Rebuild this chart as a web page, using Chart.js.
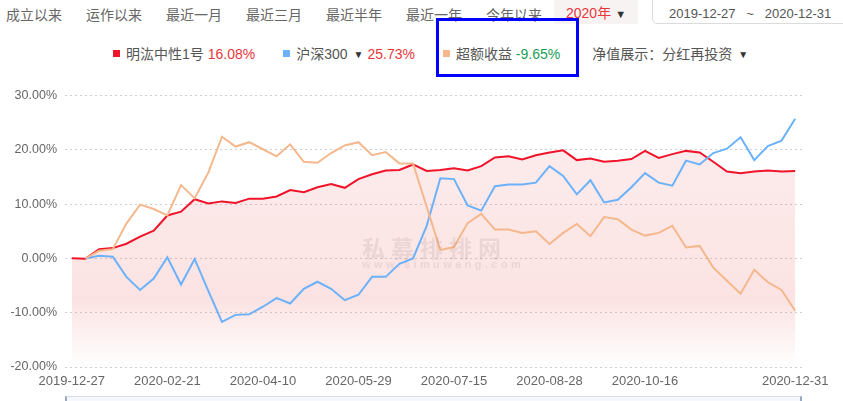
<!DOCTYPE html>
<html>
<head>
<meta charset="utf-8">
<script src="https://cdn.jsdelivr.net/npm/chart.js"></script>
<style>
  body { margin: 0; width: 843px; height: 401px; overflow: hidden; background: #fff;
         font-family: "Liberation Sans", "Noto Sans CJK SC", sans-serif; color: #666; }
  .tab { position: absolute; top: 4px; font-size: 14px; color: #666; }
  .tab.on { color: #e8363c; background: #f8f3f3; top: 0; height: 24px; line-height: 26px; padding: 0 12px; border-radius: 2px; }
  .tab.on b { font-weight: normal; color: #333; font-size: 11px; margin-left: 4px; }
  #dates { position: absolute; left: 652px; top: -6px; width: 200px; height: 30px; border: 1px solid #dcdcdc;
           border-radius: 5px; font-size: 13px; color: #555; line-height: 38px; padding-left: 16px; box-sizing: border-box; }
  #legend { position: absolute; top: 43px; left: 113px; font-size: 14px; color: #555; white-space: nowrap; }
  #legend span.item { margin-right: 28px; }
  #legend i { display: inline-block; width: 7px; height: 7px; margin-right: 6px; vertical-align: 2px; }
  #legend .arrow { font-size: 10px; color: #333; margin: 0 4px 0 6px; vertical-align: 1px; }
  #mark { position: absolute; left: 436px; top: 18px; width: 137px; height: 53px; border: 3px solid #0000ff; }
  #wm1 { position: absolute; left: 362px; top: 230px; font-size: 23px; font-weight: bold; letter-spacing: 6px; color: rgba(110,80,80,0.11); }
  #wm2 { position: absolute; left: 362px; top: 258px; font-size: 11px; font-weight: bold; letter-spacing: 3.4px; color: rgba(110,80,80,0.11); }
  #zoombar { position: absolute; left: 65px; top: 396px; width: 733px; height: 10px; background: #f6f8fd;
             border: 1px solid #d6dbe6; border-left: 2px solid #9aa8c8; border-right: 2px solid #9aa8c8; }
  #wrap { position: absolute; left: 0; top: 80px; width: 843px; height: 321px; }
</style>
</head>
<body>
<div id="tabs"></div>
<div id="dates">2019-12-27 &nbsp;&nbsp;~&nbsp;&nbsp; 2020-12-31</div>
<div id="legend"></div>
<div id="mark"></div>
<div id="wrap"><canvas id="myChart"></canvas></div>
<div id="wm1">私募排排网</div>
<div id="wm2">www.simuwang.com</div>
<div id="zoombar"></div>
<script>
let tabNames = ["成立以来", "运作以来", "最近一月", "最近三月", "最近半年", "最近一年", "今年以来", "2020年"];

let fechas = [
  "2019-12-27", "2020-01-03", "2020-01-10", "2020-01-17", "2020-01-23", "2020-02-07", "2020-02-14",
  "2020-02-21", "2020-02-28", "2020-03-06", "2020-03-13", "2020-03-20", "2020-03-27", "2020-04-03",
  "2020-04-10", "2020-04-17", "2020-04-24", "2020-04-30", "2020-05-08", "2020-05-15", "2020-05-22",
  "2020-05-29", "2020-06-05", "2020-06-12", "2020-06-19", "2020-06-24", "2020-07-03", "2020-07-10",
  "2020-07-15", "2020-07-17", "2020-07-24", "2020-07-31", "2020-08-07", "2020-08-14", "2020-08-21",
  "2020-08-28", "2020-09-04", "2020-09-11", "2020-09-18", "2020-09-25", "2020-09-30", "2020-10-09",
  "2020-10-16", "2020-10-23", "2020-10-30", "2020-11-06", "2020-11-13", "2020-11-20", "2020-11-27",
  "2020-12-04", "2020-12-11", "2020-12-18", "2020-12-25", "2020-12-31"
];
let etiquetasX = ["2019-12-27", "2020-02-21", "2020-04-10", "2020-05-29", "2020-07-15", "2020-08-28", "2020-10-16", "2020-12-31"];

let fondo = [0.05, -0.05, 1.7, 1.9, 2.7, 4.0, 5.1, 7.9, 8.6, 10.9, 10.1, 10.5, 10.2, 11.0, 11.0, 11.4, 12.6, 12.2,
  13.1, 13.7, 13.0, 14.6, 15.5, 16.2, 16.3, 17.3, 16.1, 16.3, 16.6, 16.2, 17.0, 18.6, 18.8, 18.2, 19.0, 19.5,
  19.9, 18.1, 18.4, 17.8, 18.0, 18.3, 19.8, 18.5, 19.2, 19.8, 19.5, 17.8, 16.0, 15.7, 16.0, 16.2, 16.0, 16.08];
let hs300 = [null, 0, 0.5, 0.3, -3.4, -5.8, -3.7, 0.2, -4.8, -0.1, -6.0, -11.7, -10.4, -10.3, -8.9, -7.3, -8.3, -5.6,
  -4.3, -5.6, -7.7, -6.7, -3.4, -3.4, -1.0, 0.0, 6.0, 14.75, 14.6, 9.75, 8.8, 13.3, 13.6, 13.6, 13.95, 17.0,
  15.2, 11.8, 14.4, 10.3, 10.8, 13.1, 15.7, 13.95, 13.4, 18.0, 17.3, 19.4, 20.2, 22.3, 18.1, 20.7, 21.7, 25.73];
let exceso = [null, 0, 1.4, 1.7, 6.4, 9.9, 9.1, 7.9, 13.5, 11.1, 15.8, 22.4, 20.6, 21.4, 20.1, 18.8, 21.0, 17.8,
  17.6, 19.4, 20.8, 21.4, 19.0, 19.6, 17.5, 17.5, 9.5, 1.55, 2.1, 6.5, 8.2, 5.3, 5.3, 4.7, 5.0, 2.65,
  4.7, 6.35, 4.1, 7.6, 7.2, 5.3, 4.2, 4.7, 6.0, 2.0, 2.3, -1.7, -4.1, -6.5, -2.1, -4.4, -5.8, -9.65];

let series = [
  { nombre: "明汯中性1号", color: "#f0142a", total: "16.08%", colorTotal: "#e8363c", data: fondo },
  { nombre: "沪深300", color: "#6cb2fa", total: "25.73%", colorTotal: "#e8363c", data: hs300, flecha: true },
  { nombre: "超额收益", color: "#f5b88c", total: "-9.65%", colorTotal: "#1a9e55", data: exceso }
];

// barra de pestañas
let tabsHtml = "";
tabNames.forEach(function (t, i) {
  if (i === tabNames.length - 1) {
    tabsHtml += `<span class="tab on" style="left:554px">${t}<b>▼</b></span>`;
  } else {
    tabsHtml += `<span class="tab" style="left:${6 + i * 80}px">${t}</span>`;
  }
});
document.getElementById("tabs").innerHTML = tabsHtml;

// leyenda
let legendHtml = "";
for (const s of series) {
  legendHtml += `<span class="item"><i style="background:${s.color}"></i>${s.nombre}` +
    (s.flecha ? `<span class="arrow">▼</span>` : " ") +
    `<span style="color:${s.colorTotal}">${s.total}</span></span>`;
}
legendHtml += `<span style="margin-left:4px">净值展示：分红再投资<span class="arrow">▼</span></span>`;
document.getElementById("legend").innerHTML = legendHtml;

const showIdx = etiquetasX.map(e => fechas.indexOf(e));

function relleno(ctx) {
  const area = ctx.chart.chartArea;
  if (!area) return "rgba(240,120,120,0.15)";
  const g = ctx.chart.ctx.createLinearGradient(0, area.top + 50, 0, area.bottom);
  g.addColorStop(0, "rgba(236,105,105,0.13)");
  g.addColorStop(0.7, "rgba(236,105,105,0.19)");
  g.addColorStop(1, "rgba(236,105,105,0)");
  return g;
}

const datasets = series.map(function (s, i) {
  return {
    label: s.nombre,
    data: s.data,
    borderColor: s.color,
    borderWidth: 2,
    pointRadius: 0,
    tension: 0,
    fill: i === 0 ? "start" : false,
    backgroundColor: i === 0 ? relleno : "transparent",
    order: i === 0 ? 3 : (i === 1 ? 2 : 1)
  };
});

const grafico = new Chart(document.getElementById("myChart"), {
  type: "line",
  data: { labels: fechas, datasets },
  options: {
    responsive: true,
    maintainAspectRatio: false,
    animation: false,
    layout: { padding: { top: 10, right: 41, left: 0, bottom: 0 } },
    plugins: { legend: { display: false }, tooltip: { enabled: false } },
    scales: {
      x: {
        offset: true,
        grid: { display: false, drawTicks: false },
        border: { display: false },
        afterFit: function (sc) { sc.height = 34; },
        ticks: {
          autoSkip: false, maxRotation: 0, padding: 7,
          color: "#666", font: { size: 13, family: "Liberation Sans" },
          callback: function (v, i) { return showIdx.includes(i) ? fechas[i] : ""; }
        }
      },
      y: {
        min: -20, max: 30,
        grid: { color: "#cfcfcf", drawTicks: false, borderDash: [2, 3] },
        border: { display: false, dash: [2, 3] },
        afterFit: function (sc) { sc.width = 65; },
        ticks: {
          stepSize: 10, padding: 8,
          color: "#666", font: { size: 12.5, family: "Liberation Sans" },
          callback: v => v.toFixed(2) + "%"
        }
      }
    }
  }
});
</script>
</body>
</html>
